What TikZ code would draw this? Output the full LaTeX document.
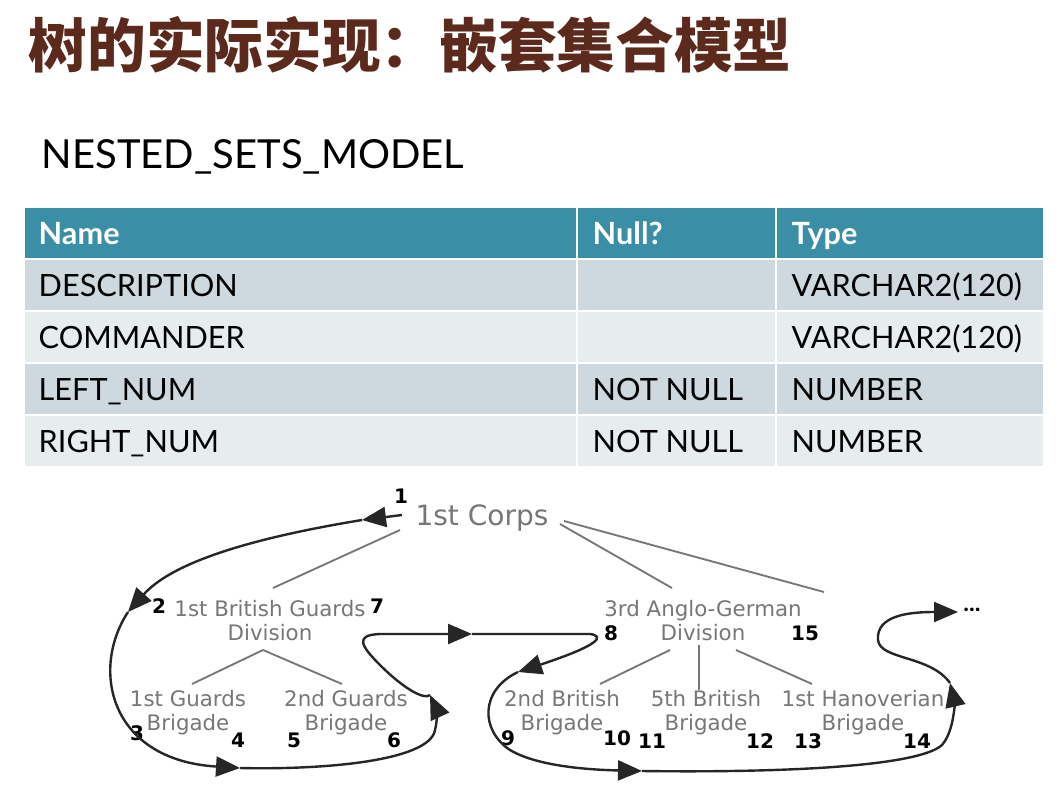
\documentclass[tikz,border=0pt]{standalone}
\usepackage{fontspec}
\setmainfont{Lato}
\newfontfamily\cjk{Noto Sans CJK SC}
\newfontfamily\hand{DejaVu Sans}
\usetikzlibrary{arrows.meta}
\definecolor{titlec}{HTML}{5B2A1C}
\definecolor{headc}{HTML}{3A8FA6}
\definecolor{rowa}{HTML}{CDD9DE}
\definecolor{rowb}{HTML}{E7ECEE}
\definecolor{tg}{HTML}{777777}
\tikzset{
 cell/.style={anchor=base west,font=\fontsize{23}{26}\selectfont},
 hcell/.style={cell,text=white,font=\fontsize{23}{26}\selectfont\bfseries},
 unit/.style={text=tg,font=\hand\fontsize{16}{18}\selectfont,align=center,inner sep=1pt},
 num/.style={font=\hand\fontsize{15}{16}\selectfont\bfseries,inner sep=0pt},
 tree/.style={draw=tg,line width=1.4pt},
 walk/.style={draw=black!85,line width=1.8pt,-{Triangle[length=18pt,width=15pt]}},
}
\begin{document}
\begin{tikzpicture}[x=0.75pt,y=-0.75pt]
\useasboundingbox (0,0) rectangle (1064,786);
\fill[white] (0,0) rectangle (1064,786);
% title
\node[anchor=west,text=titlec,font=\cjk\bfseries\fontsize{44}{46}\selectfont] (title) at (24,45) {树的实际实现：嵌套集合模型};
\node[anchor=base west,font=\fontsize{30}{32}\selectfont] (tname) at (37,168) {NESTED\_SETS\_MODEL};
% table
\fill[headc] (25,208) rectangle (1043,258);
\fill[rowa] (25,260) rectangle (1043,310);
\fill[rowb] (25,312) rectangle (1043,362);
\fill[rowa] (25,364) rectangle (1043,414);
\fill[rowb] (25,416) rectangle (1043,466);
\foreach \y in {259,311,363,415} \draw[white,line width=1.5pt] (25,\y) -- (1043,\y);
\draw[white,line width=1.5pt] (577,208) -- (577,466) (776,208) -- (776,466);
\node[hcell] (h1) at (34,244) {Name};
\node[hcell] (h2) at (588,244) {Null?};
\node[hcell] (h3) at (787,244) {Type};
\node[cell] (r1a) at (34,296) {DESCRIPTION};
\node[cell] (r1c) at (787,296) {VARCHAR2(120)};
\node[cell] (r2a) at (34,348) {COMMANDER};
\node[cell] (r2c) at (787,348) {VARCHAR2(120)};
\node[cell] (r3a) at (34,400) {LEFT\_NUM};
\node[cell] (r3b) at (588,400) {NOT NULL};
\node[cell] (r3c) at (787,400) {NUMBER};
\node[cell] (r4a) at (34,452) {RIGHT\_NUM};
\node[cell] (r4b) at (588,452) {NOT NULL};
\node[cell] (r4c) at (787,452) {NUMBER};
% tree nodes
\node[unit,font=\hand\fontsize{21}{24}\selectfont] (corps) at (482,518) {1st Corps};
\node[unit] (d1) at (270,621) {1st British Guards\\Division};
\node[unit] (d3) at (703,621) {3rd Anglo-German\\Division};
\node[unit] (b1) at (188,713) {1st Guards\\Brigade};
\node[unit] (b2) at (346,713) {2nd Guards\\Brigade};
\node[unit] (b3) at (562,713) {2nd British\\Brigade};
\node[unit] (b4) at (706,713) {5th British\\Brigade};
\node[unit] (b5) at (863,713) {1st Hanoverian\\Brigade};
\draw[tree] (400,530) -- (273,588);
\draw[tree] (560,524) -- (672,588);
\draw[tree] (564,521) -- (824,592);
\draw[tree] (263,650) -- (192,684);
\draw[tree] (263,650) -- (342,684);
\draw[tree] (670,650) -- (600,684);
\draw[tree] (699,645) -- (699,690);
\draw[tree] (736,650) -- (812,684);
% numbers
\node[num] (n1) at (401,496) {1};
\node[num] (n2) at (159,606) {2};
\node[num] (n7) at (377,606) {7};
\node[num] (n3) at (137,733) {3};
\node[num] (n4) at (238,740) {4};
\node[num] (n5) at (294,740) {5};
\node[num] (n6) at (394,740) {6};
\node[num] (n8) at (611,633) {8};
\node[num] (n15) at (805,633) {15};
\node[num] (n9) at (508,738) {9};
\node[num] (n10) at (617,738) {10};
\node[num] (n11) at (652,741) {11};
\node[num] (n12) at (760,741) {12};
\node[num] (n13) at (808,741) {13};
\node[num] (n14) at (917,741) {14};
\node[font=\bfseries\fontsize{18}{18}\selectfont,inner sep=0pt] (dots) at (972,610) {...};
% walk
\coordinate (p1) at (402,515);
\coordinate (p2) at (128,612);
\coordinate (p3) at (240,768);
\coordinate (p4) at (430,695);
\coordinate (p5) at (472,634);
\coordinate (p6) at (518,672);
\coordinate (p7) at (642,771);
\coordinate (p8) at (950,683);
\coordinate (p9) at (958,612);
\draw[walk] (p1) -- (362,520);
\draw[walk] (362,520) .. controls (240,540) and (170,565) .. (p2);
\draw[walk] (p2) .. controls (90,670) and (110,760) .. (p3);
\draw[walk] (p3) .. controls (330,770) and (430,760) .. (435,730) .. controls (438,718) and (436,708) .. (p4);
\draw[walk] (p4) .. controls (425,700) and (405,690) .. (380,665) .. controls (360,645) and (355,635) .. (380,634) -- (p5);
\draw[walk] (p5) -- (590,634) .. controls (605,636) and (600,645) .. (p6);
\draw[walk] (p6) .. controls (480,690) and (480,730) .. (510,750) .. controls (540,768) and (600,770) .. (p7);
\draw[walk] (p7) .. controls (800,773) and (920,765) .. (942,745) .. controls (955,730) and (954,700) .. (p8);
\draw[walk] (p8) .. controls (930,655) and (880,660) .. (878,640) .. controls (876,615) and (910,612) .. (p9);
\end{tikzpicture}
\end{document}
